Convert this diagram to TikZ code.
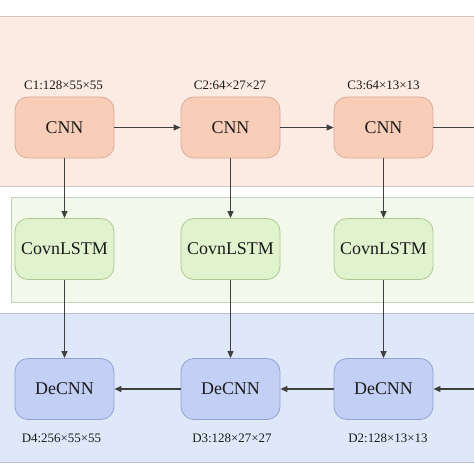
\documentclass[tikz,border=0pt]{standalone}
\usepackage{fontspec}
\setmainfont{Liberation Serif}
\usetikzlibrary{arrows.meta}
\definecolor{bandO}{HTML}{FCEBE2}
\definecolor{bandOline}{HTML}{CFC6C2}
\definecolor{bandG}{HTML}{F2F8EA}
\definecolor{bandGline}{HTML}{C6D0BC}
\definecolor{bandB}{HTML}{DFE8F8}
\definecolor{bandBline}{HTML}{B9C1CD}
\definecolor{boxO}{HTML}{F9CEB9}
\definecolor{boxOline}{HTML}{D8AB95}
\definecolor{boxG}{HTML}{E1F2CF}
\definecolor{boxGline}{HTML}{ADC993}
\definecolor{boxB}{HTML}{C3CFF5}
\definecolor{boxBline}{HTML}{93A2D4}
\definecolor{arr}{HTML}{3F3F3F}
\definecolor{txt}{HTML}{1A1A1A}
\begin{document}
\begin{tikzpicture}[x=1bp,y=-1bp,
  blk/.style={rounded corners=13bp, minimum width=99bp, minimum height=61bp, inner sep=0pt, line width=0.8bp, text=txt, font=\fontsize{18}{20}\selectfont},
  cnnbox/.style={blk, draw=boxOline, fill=boxO},
  lstmbox/.style={blk, draw=boxGline, fill=boxG},
  decbox/.style={blk, draw=boxBline, fill=boxB},
  lab/.style={inner sep=0pt, text=txt, font=\fontsize{13}{15}\selectfont},
  conn/.style={draw=arr, line width=1.1bp, -{Triangle[length=7bp,width=6bp]}},
  plain/.style={draw=arr, line width=1.1bp}
]
\clip (0,0) rectangle (474,474);
\fill[white] (0,0) rectangle (474,474);
% bands
\draw[fill=bandO, draw=bandOline, line width=0.8bp] (-5,16) rectangle (480,186.5);
\draw[fill=bandG, draw=bandGline, line width=0.8bp] (11,197) rectangle (480,302);
\draw[fill=bandB, draw=bandBline, line width=0.8bp] (-5,313) rectangle (480,462);
% nodes
\node[cnnbox] (c1) at (64.5,127.5) {CNN};
\node[cnnbox] (c2) at (230.5,127.5) {CNN};
\node[cnnbox] (c3) at (383.5,127.5) {CNN};
\node[lstmbox] (l1) at (64.5,249) {CovnLSTM};
\node[lstmbox] (l2) at (230.5,249) {CovnLSTM};
\node[lstmbox] (l3) at (383.5,249) {CovnLSTM};
\node[decbox] (d1) at (64.5,389) {DeCNN};
\node[decbox] (d2) at (230.5,389) {DeCNN};
\node[decbox] (d3) at (383.5,389) {DeCNN};
% labels
\node[lab] (tc1) at (63.5,85) {C1:128×55×55};
\node[lab] (tc2) at (230,85) {C2:64×27×27};
\node[lab] (tc3) at (383.5,85) {C3:64×13×13};
\node[lab] (td4) at (61.5,438) {D4:256×55×55};
\node[lab] (td3) at (232,438) {D3:128×27×27};
\node[lab] (td2) at (388,438) {D2:128×13×13};
% outside coordinates
\coordinate (outc) at (476,127.5);
\coordinate (ind) at (476,389);
% connectors
\draw[conn] (c1) -- (c2);
\draw[conn] (c2) -- (c3);
\draw[plain] (c3) -- (outc);
\draw[conn] (c1) -- (l1);
\draw[conn] (c2) -- (l2);
\draw[conn] (c3) -- (l3);
\draw[conn] (l1) -- (d1);
\draw[conn] (l2) -- (d2);
\draw[conn] (l3) -- (d3);
\draw[conn] (ind) -- (d3);
\draw[conn] (d3) -- (d2);
\draw[conn] (d2) -- (d1);
\end{tikzpicture}
\end{document}
